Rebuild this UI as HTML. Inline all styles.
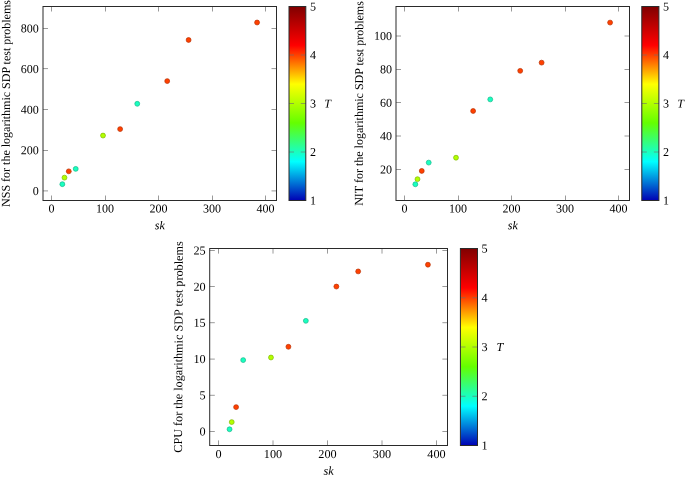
<!DOCTYPE html>
<html><head><meta charset="utf-8"><title>Scatter plots</title>
<style>html,body{margin:0;padding:0;background:#fff;}body{width:685px;height:479px;overflow:hidden;}svg{display:block;}</style>
</head><body>
<svg width="685" height="479" viewBox="0 0 685 479" font-family="'Liberation Serif', 'Times New Roman', serif" fill="#000">
<defs><linearGradient id="bluered" x1="0" y1="1" x2="0" y2="0">
<stop offset="0" stop-color="rgb(0,0,180)"/>
<stop offset="0.2" stop-color="rgb(0,255,255)"/>
<stop offset="0.4" stop-color="rgb(100,255,0)"/>
<stop offset="0.6" stop-color="rgb(255,255,0)"/>
<stop offset="0.8" stop-color="rgb(255,0,0)"/>
<stop offset="1" stop-color="rgb(128,0,0)"/>
</linearGradient></defs>
<g font-size="12"><path d="M51.5 200.5V195.5M51.5 6.5V11.5M105.5 200.5V195.5M105.5 6.5V11.5M158.5 200.5V195.5M158.5 6.5V11.5M212.5 200.5V195.5M212.5 6.5V11.5M265.5 200.5V195.5M265.5 6.5V11.5M43 190.9H48M276.5 190.9H271.5M43 150.5H48M276.5 150.5H271.5M43 109.5H48M276.5 109.5H271.5M43 68.6H48M276.5 68.6H271.5M43 28.5H48M276.5 28.5H271.5" stroke="#9a9a9a" stroke-width="1" fill="none"/>
<rect x="43" y="6.5" width="233.5" height="194" fill="none" stroke="#2a2a2a" stroke-width="1"/>
<circle cx="62.35" cy="184.19" r="2.45" fill="rgb(25,255,191)" stroke="rgb(18,184,138)" stroke-width="0.7"/>
<circle cx="64.49" cy="177.65" r="2.45" fill="rgb(178,255,0)" stroke="rgb(128,184,0)" stroke-width="0.7"/>
<circle cx="68.77" cy="171.34" r="2.45" fill="rgb(255,64,0)" stroke="rgb(184,46,0)" stroke-width="0.7"/>
<circle cx="75.73" cy="168.89" r="2.45" fill="rgb(25,255,191)" stroke="rgb(18,184,138)" stroke-width="0.7"/>
<circle cx="103.01" cy="135.56" r="2.45" fill="rgb(178,255,0)" stroke="rgb(128,184,0)" stroke-width="0.7"/>
<circle cx="120.13" cy="129.1" r="2.45" fill="rgb(255,64,0)" stroke="rgb(184,46,0)" stroke-width="0.7"/>
<circle cx="137.25" cy="103.8" r="2.45" fill="rgb(25,255,191)" stroke="rgb(18,184,138)" stroke-width="0.7"/>
<circle cx="167.21" cy="81.1" r="2.45" fill="rgb(255,64,0)" stroke="rgb(184,46,0)" stroke-width="0.7"/>
<circle cx="188.61" cy="40" r="2.45" fill="rgb(255,64,0)" stroke="rgb(184,46,0)" stroke-width="0.7"/>
<circle cx="257.09" cy="22.5" r="2.45" fill="rgb(255,64,0)" stroke="rgb(184,46,0)" stroke-width="0.7"/>
<text x="38.8" y="194.93" text-anchor="end" transform="rotate(0.2 38.8 194.93)">0</text>
<text x="38.8" y="154.33" text-anchor="end" transform="rotate(0.2 38.8 154.33)">200</text>
<text x="38.8" y="113.68" text-anchor="end" transform="rotate(0.2 38.8 113.68)">400</text>
<text x="38.8" y="73.03" text-anchor="end" transform="rotate(0.2 38.8 73.03)">600</text>
<text x="38.8" y="32.43" text-anchor="end" transform="rotate(0.2 38.8 32.43)">800</text>
<text x="51.5" y="212.6" text-anchor="middle" transform="rotate(0.2 51.5 212.6)">0</text>
<text x="105" y="212.6" text-anchor="middle" transform="rotate(0.2 105 212.6)">100</text>
<text x="158.5" y="212.6" text-anchor="middle" transform="rotate(0.2 158.5 212.6)">200</text>
<text x="212" y="212.6" text-anchor="middle" transform="rotate(0.2 212 212.6)">300</text>
<text x="265.5" y="212.6" text-anchor="middle" transform="rotate(0.2 265.5 212.6)">400</text>
<text x="159.75" y="229.2" text-anchor="middle" font-style="italic" transform="rotate(0.2 159.75 229.2)">sk</text>
<text transform="translate(10 103.5) rotate(-89.8)" text-anchor="middle">NSS for the logarithmic SDP test problems</text>
<rect x="289" y="6.5" width="16.8" height="194" fill="url(#bluered)"/>
<path d="M289 152H294M305.8 152H300.8M289 103.5H294M305.8 103.5H300.8M289 55H294M305.8 55H300.8" stroke="rgba(110,110,110,0.6)" stroke-width="1" fill="none"/>
<rect x="289" y="6.5" width="16.8" height="194" fill="none" stroke="#2a2a2a" stroke-width="1"/>
<text x="310" y="204.43" transform="rotate(0.2 310 204.43)">1</text>
<text x="310" y="155.93" transform="rotate(0.2 310 155.93)">2</text>
<text x="310" y="107.43" transform="rotate(0.2 310 107.43)">3</text>
<text x="310" y="58.93" transform="rotate(0.2 310 58.93)">4</text>
<text x="310" y="10.43" transform="rotate(0.2 310 10.43)">5</text>
<text x="324.3" y="107.43" font-style="italic" transform="rotate(0.2 324.3 107.43)">T</text></g>
<g font-size="12"><path d="M404.5 200.5V195.5M404.5 6.5V11.5M458.5 200.5V195.5M458.5 6.5V11.5M511.5 200.5V195.5M511.5 6.5V11.5M565.5 200.5V195.5M565.5 6.5V11.5M618.5 200.5V195.5M618.5 6.5V11.5M396 169.5H401M629.5 169.5H624.5M396 136H401M629.5 136H624.5M396 102.5H401M629.5 102.5H624.5M396 69.5H401M629.5 69.5H624.5M396 36H401M629.5 36H624.5" stroke="#9a9a9a" stroke-width="1" fill="none"/>
<rect x="396" y="6.5" width="233.5" height="194" fill="none" stroke="#2a2a2a" stroke-width="1"/>
<circle cx="415.35" cy="184.29" r="2.45" fill="rgb(25,255,191)" stroke="rgb(18,184,138)" stroke-width="0.7"/>
<circle cx="417.49" cy="179.17" r="2.45" fill="rgb(178,255,0)" stroke="rgb(128,184,0)" stroke-width="0.7"/>
<circle cx="421.77" cy="170.93" r="2.45" fill="rgb(255,64,0)" stroke="rgb(184,46,0)" stroke-width="0.7"/>
<circle cx="428.72" cy="162.6" r="2.45" fill="rgb(25,255,191)" stroke="rgb(18,184,138)" stroke-width="0.7"/>
<circle cx="456.01" cy="157.7" r="2.45" fill="rgb(178,255,0)" stroke="rgb(128,184,0)" stroke-width="0.7"/>
<circle cx="473.13" cy="111" r="2.45" fill="rgb(255,64,0)" stroke="rgb(184,46,0)" stroke-width="0.7"/>
<circle cx="490.25" cy="99.4" r="2.45" fill="rgb(25,255,191)" stroke="rgb(18,184,138)" stroke-width="0.7"/>
<circle cx="520.21" cy="70.83" r="2.45" fill="rgb(255,64,0)" stroke="rgb(184,46,0)" stroke-width="0.7"/>
<circle cx="541.61" cy="62.64" r="2.45" fill="rgb(255,64,0)" stroke="rgb(184,46,0)" stroke-width="0.7"/>
<circle cx="610.09" cy="22.59" r="2.45" fill="rgb(255,64,0)" stroke="rgb(184,46,0)" stroke-width="0.7"/>
<text x="391.9" y="173.43" text-anchor="end" transform="rotate(0.2 391.9 173.43)">20</text>
<text x="391.9" y="140.06" text-anchor="end" transform="rotate(0.2 391.9 140.06)">40</text>
<text x="391.9" y="106.68" text-anchor="end" transform="rotate(0.2 391.9 106.68)">60</text>
<text x="391.9" y="73.31" text-anchor="end" transform="rotate(0.2 391.9 73.31)">80</text>
<text x="391.9" y="39.93" text-anchor="end" transform="rotate(0.2 391.9 39.93)">100</text>
<text x="404.5" y="212.6" text-anchor="middle" transform="rotate(0.2 404.5 212.6)">0</text>
<text x="458" y="212.6" text-anchor="middle" transform="rotate(0.2 458 212.6)">100</text>
<text x="511.5" y="212.6" text-anchor="middle" transform="rotate(0.2 511.5 212.6)">200</text>
<text x="565" y="212.6" text-anchor="middle" transform="rotate(0.2 565 212.6)">300</text>
<text x="618.5" y="212.6" text-anchor="middle" transform="rotate(0.2 618.5 212.6)">400</text>
<text x="512.75" y="229.2" text-anchor="middle" font-style="italic" transform="rotate(0.2 512.75 229.2)">sk</text>
<text transform="translate(363 103.5) rotate(-89.8)" text-anchor="middle">NIT for the logarithmic SDP test problems</text>
<rect x="641.8" y="6.5" width="17.1" height="194" fill="url(#bluered)"/>
<path d="M641.8 152H646.8M658.9 152H653.9M641.8 103.5H646.8M658.9 103.5H653.9M641.8 55H646.8M658.9 55H653.9" stroke="rgba(110,110,110,0.6)" stroke-width="1" fill="none"/>
<rect x="641.8" y="6.5" width="17.1" height="194" fill="none" stroke="#2a2a2a" stroke-width="1"/>
<text x="663" y="204.43" transform="rotate(0.2 663 204.43)">1</text>
<text x="663" y="155.93" transform="rotate(0.2 663 155.93)">2</text>
<text x="663" y="107.43" transform="rotate(0.2 663 107.43)">3</text>
<text x="663" y="58.93" transform="rotate(0.2 663 58.93)">4</text>
<text x="663" y="10.43" transform="rotate(0.2 663 10.43)">5</text>
<text x="677.3" y="107.43" font-style="italic" transform="rotate(0.2 677.3 107.43)">T</text></g>
<g font-size="12.2"><path d="M218.5 445.5V440.4M218.5 248.5V253.6M273 445.5V440.4M273 248.5V253.6M327.5 445.5V440.4M327.5 248.5V253.6M382 445.5V440.4M382 248.5V253.6M436.5 445.5V440.4M436.5 248.5V253.6M209.7 431.5H214.8M447.5 431.5H442.4M209.7 395.3H214.8M447.5 395.3H442.4M209.7 359.1H214.8M447.5 359.1H442.4M209.7 322.7H214.8M447.5 322.7H442.4M209.7 286.5H214.8M447.5 286.5H442.4M209.7 250.5H214.8M447.5 250.5H442.4" stroke="#9a9a9a" stroke-width="1" fill="none"/>
<rect x="209.7" y="248.5" width="237.8" height="197" fill="none" stroke="#2a2a2a" stroke-width="1"/>
<circle cx="229.55" cy="429.28" r="2.45" fill="rgb(25,255,191)" stroke="rgb(18,184,138)" stroke-width="0.7"/>
<circle cx="231.73" cy="422.09" r="2.45" fill="rgb(178,255,0)" stroke="rgb(128,184,0)" stroke-width="0.7"/>
<circle cx="236.09" cy="407.12" r="2.45" fill="rgb(255,64,0)" stroke="rgb(184,46,0)" stroke-width="0.7"/>
<circle cx="243.18" cy="360.09" r="2.45" fill="rgb(25,255,191)" stroke="rgb(18,184,138)" stroke-width="0.7"/>
<circle cx="270.97" cy="357.5" r="2.45" fill="rgb(178,255,0)" stroke="rgb(128,184,0)" stroke-width="0.7"/>
<circle cx="288.41" cy="346.8" r="2.45" fill="rgb(255,64,0)" stroke="rgb(184,46,0)" stroke-width="0.7"/>
<circle cx="305.85" cy="320.83" r="2.45" fill="rgb(25,255,191)" stroke="rgb(18,184,138)" stroke-width="0.7"/>
<circle cx="336.37" cy="286.56" r="2.45" fill="rgb(255,64,0)" stroke="rgb(184,46,0)" stroke-width="0.7"/>
<circle cx="358.17" cy="271.42" r="2.45" fill="rgb(255,64,0)" stroke="rgb(184,46,0)" stroke-width="0.7"/>
<circle cx="427.93" cy="264.7" r="2.45" fill="rgb(255,64,0)" stroke="rgb(184,46,0)" stroke-width="0.7"/>
<text x="205.6" y="435.5" text-anchor="end" transform="rotate(0.2 205.6 435.5)">0</text>
<text x="205.6" y="399.3" text-anchor="end" transform="rotate(0.2 205.6 399.3)">5</text>
<text x="205.6" y="363.1" text-anchor="end" transform="rotate(0.2 205.6 363.1)">10</text>
<text x="205.6" y="326.9" text-anchor="end" transform="rotate(0.2 205.6 326.9)">15</text>
<text x="205.6" y="290.7" text-anchor="end" transform="rotate(0.2 205.6 290.7)">20</text>
<text x="205.6" y="254.5" text-anchor="end" transform="rotate(0.2 205.6 254.5)">25</text>
<text x="218.5" y="458" text-anchor="middle" transform="rotate(0.2 218.5 458)">0</text>
<text x="273" y="458" text-anchor="middle" transform="rotate(0.2 273 458)">100</text>
<text x="327.5" y="458" text-anchor="middle" transform="rotate(0.2 327.5 458)">200</text>
<text x="382" y="458" text-anchor="middle" transform="rotate(0.2 382 458)">300</text>
<text x="436.5" y="458" text-anchor="middle" transform="rotate(0.2 436.5 458)">400</text>
<text x="328.6" y="474.8" text-anchor="middle" font-style="italic" transform="rotate(0.2 328.6 474.8)">sk</text>
<text transform="translate(182.4 347) rotate(-89.8)" text-anchor="middle">CPU for the logarithmic SDP test problems</text>
<rect x="460.4" y="248.5" width="17.1" height="197" fill="url(#bluered)"/>
<path d="M460.4 396.25H465.5M477.5 396.25H472.4M460.4 347H465.5M477.5 347H472.4M460.4 297.75H465.5M477.5 297.75H472.4" stroke="rgba(110,110,110,0.6)" stroke-width="1" fill="none"/>
<rect x="460.4" y="248.5" width="17.1" height="197" fill="none" stroke="#2a2a2a" stroke-width="1"/>
<text x="481.6" y="449.5" transform="rotate(0.2 481.6 449.5)">1</text>
<text x="481.6" y="400.25" transform="rotate(0.2 481.6 400.25)">2</text>
<text x="481.6" y="351" transform="rotate(0.2 481.6 351)">3</text>
<text x="481.6" y="301.75" transform="rotate(0.2 481.6 301.75)">4</text>
<text x="481.6" y="252.5" transform="rotate(0.2 481.6 252.5)">5</text>
<text x="496.5" y="350.99" font-style="italic" transform="rotate(0.2 496.5 350.99)">T</text></g>
</svg>
</body></html>
